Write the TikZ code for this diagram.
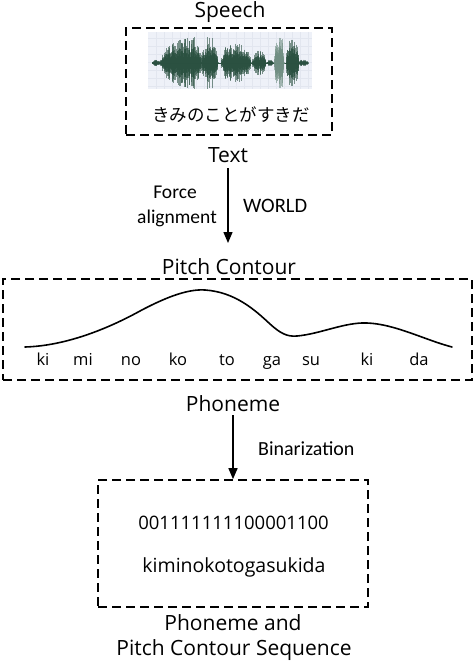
\documentclass[tikz,border=0pt]{standalone}
\usepackage{fontspec}
\setmainfont{Open Sans}
\newfontfamily\labfont{Carlito}
\newfontfamily\jpfont{Noto Sans CJK JP}
\usetikzlibrary{arrows.meta}
\definecolor{wdark}{HTML}{2A5040}
\definecolor{wlight}{HTML}{6F8E82}
\definecolor{wavebg}{HTML}{EEF1F8}
\definecolor{wavegrid}{HTML}{E2E6EF}
\tikzset{
  title/.style={font=\fontsize{21}{25}\selectfont, inner sep=0pt, anchor=base},
  syl/.style={font=\fontsize{16.5}{19}\selectfont, inner sep=0pt, anchor=base},
  seqtext/.style={font=\fontsize{18.5}{22}\selectfont, inner sep=0pt, anchor=base},
  lab/.style={font=\labfont\fontsize{19.5}{25}\selectfont, inner sep=0pt},
  dashbox/.style={draw, line width=1.6pt, dash pattern=on 9pt off 5pt, inner sep=0pt},
  arrowline/.style={line width=1.4pt, -{Triangle[length=11pt,width=9pt]}},
  contour/.style={line width=1.6pt, line cap=round}
}
\begin{document}
\begin{tikzpicture}[x=1pt,y=-1pt]
\useasboundingbox (0,0) rectangle (474,661);

% ---------- Speech block ----------
\node[title] (speech) at (230,18) {Speech};
\node[dashbox, minimum width=206pt, minimum height=107pt] (speechbox) at (229,81.5) {};
\fill[wavebg] (148,32) rectangle (312,89);
\foreach \gx in {156,164,...,308} \draw[wavegrid, line width=0.3pt] (\gx,32) -- (\gx,89);
\foreach \gy in {38,46,...,86} \draw[wavegrid, line width=0.3pt] (148,\gy) -- (312,\gy);
\draw[wdark, line width=0.8pt] (152,63) -- (308,63);
\pgfmathsetseed{7}
\foreach \xa/\xp/\xb/\amp/\col in {152/156/160/3/wdark, 160/193/201/26/wdark, 201/210/218/27/wdark, 221/232/251/21/wdark, 252/259/266/12/wdark, 267/270/273/3/wdark, 274/279/284/31/wlight, 286/292/299/27/wdark, 299/302/308/3/wdark}{
  \pgfmathsetmacro\xs{\xa+0.5}
  \foreach \x in {\xa,\xs,...,\xb}{
    \pgfmathsetmacro\env{(\x<\xp) ? sin(90*(\x-\xa)/(\xp-\xa)) : cos(90*(\x-\xp)/(\xb-\xp))}
    \pgfmathsetmacro\env{max(\env,0)}
    \pgfmathsetmacro\aa{\amp*(0.35+0.65*rnd)*sqrt(\env)+0.5}
    \draw[\col, line width=0.7pt, opacity=0.6] (\x,63-\aa) -- (\x,63+\aa);
    \pgfmathsetmacro\ab{0.6*\aa}
    \draw[\col, line width=0.7pt, opacity=0.75] (\x,63-\ab) -- (\x,63+\ab);
  }
}
\node[font=\jpfont\fontsize{17.5}{20}\selectfont, inner sep=0pt] (jp) at (231,114.5) {きみのことがすきだ};
\node[title] (text) at (228,162) {Text};

% ---------- Force alignment / WORLD ----------
\node[lab, anchor=base] (force1) at (175,198) {Force};
\node[lab, anchor=base] (force2) at (177,223) {alignment};
\node[lab, anchor=base west, font=\labfont\fontsize{20.5}{25}\selectfont] (world) at (243,212) {WORLD};

% ---------- Pitch contour ----------
\node[title] (pitch) at (229,274) {Pitch Contour};
\draw[arrowline, shorten <=6pt] (text.south) -- (text.south |- 0,243) coordinate (pitchin);
\node[dashbox, minimum width=469pt, minimum height=101pt] (pitchbox) at (237.5,329.5) {};
\draw[contour] (25,347) .. controls (60,346) and (100,333) .. (140,311)
  .. controls (170,295) and (190,289) .. (205,290)
  .. controls (235,292) and (255,310) .. (270,324)
  .. controls (280,333) and (287,337) .. (297,336)
  .. controls (320,334) and (345,322) .. (367,323)
  .. controls (395,324) and (425,340) .. (452,347);
\foreach \s/\sx [count=\i] in {ki/43, mi/83, no/131, ko/178, to/227, ga/272, su/311, ki/367, da/419}
  \node[syl] (syl\i) at (\sx,365) {\s};

% ---------- Phoneme ----------
\node[title] (phoneme) at (233,411) {Phoneme};
\node[lab, anchor=base west, font=\labfont\fontsize{20}{25}\selectfont] (binar) at (258,455) {Binarization};
\node[dashbox, minimum width=270pt, minimum height=127pt] (seqbox) at (233,543.5) {};
\draw[arrowline, shorten <=4pt] (phoneme.south) -- (seqbox.north);
\node[seqtext] (bits) at (233.5,529) {001111111100001100};
\node[seqtext, font=\fontsize{19.5}{22}\selectfont] (phon) at (234,572) {kiminokotogasukida};
\node[title] (out1) at (233,630) {Phoneme and};
\node[title] (out2) at (234,655) {Pitch Contour Sequence};
\end{tikzpicture}
\end{document}
